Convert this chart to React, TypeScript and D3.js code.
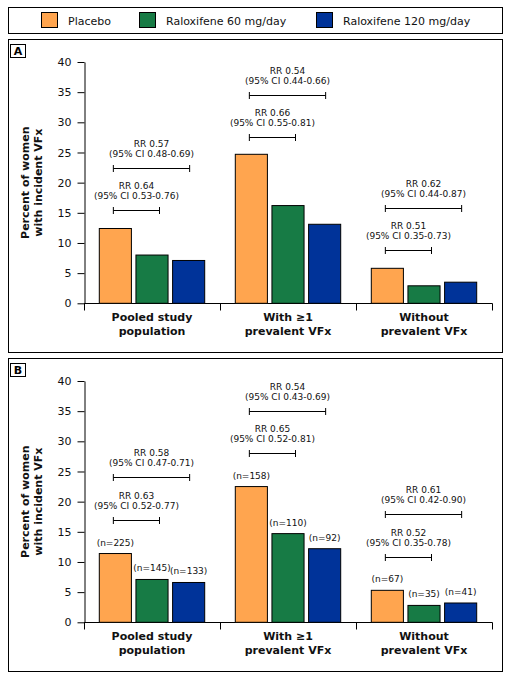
import { useRef, useEffect } from "react";
import * as d3 from "d3";

// Data
const categories = [
  ["Pooled study", "population"],
  ["With ≥1", "prevalent VFx"],
  ["Without", "prevalent VFx"],
];
const seriesNames = ["Placebo", "Raloxifene 60 mg/day", "Raloxifene 120 mg/day"];
const seriesColors = ["#FFA54F", "#177B45", "#003399"];
const yTicks = [0, 5, 10, 15, 20, 25, 30, 35, 40];

// Panel A
const aPlacebo = [12.4, 24.7, 5.8];
const aRal60 = [8.0, 16.2, 2.9];
const aRal120 = [7.1, 13.1, 3.5];
const aVs60Level = [15.5, 27.6, 8.8];
const aVs60RR = ["0.64", "0.66", "0.51"];
const aVs60CI = ["0.53-0.76", "0.55-0.81", "0.35-0.73"];
const aVs120Level = [22.4, 34.5, 15.75];
const aVs120RR = ["0.57", "0.54", "0.62"];
const aVs120CI = ["0.48-0.69", "0.44-0.66", "0.44-0.87"];

// Panel B
const bPlacebo = [11.4, 22.5, 5.3];
const bRal60 = [7.1, 14.7, 2.8];
const bRal120 = [6.6, 12.2, 3.2];
const bPlaceboN = [225, 158, 67];
const bRal60N = [145, 110, 35];
const bRal120N = [133, 92, 41];
const bVs60Level = [17.0, 28.1, 10.9];
const bVs60RR = ["0.63", "0.65", "0.52"];
const bVs60CI = ["0.52-0.77", "0.52-0.81", "0.35-0.78"];
const bVs120Level = [24.05, 35.0, 17.9];
const bVs120RR = ["0.58", "0.54", "0.61"];
const bVs120CI = ["0.47-0.71", "0.43-0.69", "0.42-0.90"];

const FONT = "Verdana, 'DejaVu Sans', sans-serif";

export default function App() {
  const svgRef = useRef<SVGSVGElement>(null);

  useEffect(() => {
    if (!svgRef.current) return;
    const svg = d3.select(svgRef.current);
    svg.selectAll("*").remove();
    svg.attr("font-family", FONT);

    // Legend
    svg.append("rect").attr("x", 8.5).attr("y", 7.5).attr("width", 494).attr("height", 26)
      .attr("fill", "#fff").attr("stroke", "#000").attr("stroke-width", 1);
    const legendX = [41, 139, 316];
    seriesNames.forEach((name, i) => {
      svg.append("rect").attr("x", legendX[i] + 0.5).attr("y", 12.5).attr("width", 16).attr("height", 15)
        .attr("fill", seriesColors[i]).attr("stroke", "#000");
      svg.append("text").attr("x", legendX[i] + 27).attr("y", 24.5)
        .attr("font-size", 11).attr("fill", "#111").text(name);
    });

    const panels = [
      {
        tag: "A", top: 39,
        values: [aPlacebo, aRal60, aRal120],
        counts: null as number[][] | null,
        brackets: [
          { target: 1, level: aVs60Level, rr: aVs60RR, ci: aVs60CI },
          { target: 2, level: aVs120Level, rr: aVs120RR, ci: aVs120CI },
        ],
      },
      {
        tag: "B", top: 358,
        values: [bPlacebo, bRal60, bRal120],
        counts: [bPlaceboN, bRal60N, bRal120N],
        brackets: [
          { target: 1, level: bVs60Level, rr: bVs60RR, ci: bVs60CI },
          { target: 2, level: bVs120Level, rr: bVs120RR, ci: bVs120CI },
        ],
      },
    ];

    const x0 = d3.scaleBand<number>().domain(d3.range(categories.length)).range([84, 492]);
    const x1 = d3.scaleBand<number>().domain(d3.range(seriesNames.length))
      .range([15.3, x0.bandwidth() - 15.3]).paddingInner(0.124);

    panels.forEach((p) => {
      const g = svg.append("g");
      g.append("rect").attr("x", 8.5).attr("y", p.top + 0.5).attr("width", 494).attr("height", 313)
        .attr("fill", "#fff").attr("stroke", "#000");
      // tag box
      g.append("rect").attr("x", 10.5).attr("y", p.top + 5.5).attr("width", 15).attr("height", 13)
        .attr("fill", "#fff").attr("stroke", "#000");
      g.append("text").attr("x", 18).attr("y", p.top + 16).attr("text-anchor", "middle")
        .attr("font-size", 11).attr("font-weight", "bold").text(p.tag);

      const y = d3.scaleLinear().domain([0, 40]).range([p.top + 264.3, p.top + 23]);

      // y axis
      const ax = g.append("g").attr("transform", "translate(84.5,0)")
        .call(d3.axisLeft(y).tickValues(yTicks).tickSize(7).tickSizeOuter(0).tickPadding(6));
      ax.selectAll("text").attr("font-size", 11).attr("font-family", FONT).attr("fill", "#111");
      ax.selectAll("line,path").attr("stroke", "#000");

      // y title
      const cy = (y(0) + y(40)) / 2;
      [["Percent of women", 29], ["with incident VFx", 41.5]].forEach(([t, bx]) => {
        g.append("text").attr("transform", `translate(${bx},${cy}) rotate(-90)`)
          .attr("text-anchor", "middle").attr("font-size", 11).attr("font-weight", "bold")
          .attr("fill", "#111").text(t as string);
      });

      // x axis baseline and separators
      const base = Math.round(y(0)) + 0.5;
      g.append("line").attr("x1", 84).attr("x2", 492.5).attr("y1", base).attr("y2", base).attr("stroke", "#000");
      const bounds = categories.map((_, i) => x0(i)!).concat([x0(categories.length - 1)! + x0.bandwidth()]);
      bounds.forEach((bx) => {
        g.append("line").attr("x1", Math.round(bx) + 0.5).attr("x2", Math.round(bx) + 0.5)
          .attr("y1", base).attr("y2", base + 7).attr("stroke", "#000");
      });

      categories.forEach((lines, ci) => {
        const cx = x0(ci)! + x0.bandwidth() / 2;
        lines.forEach((ln, li) => {
          g.append("text").attr("x", cx).attr("y", y(0) + 18 + li * 14).attr("text-anchor", "middle")
            .attr("font-size", 11).attr("font-weight", "bold").attr("fill", "#111").text(ln);
        });

        // bars
        p.values.forEach((vals, si) => {
          const bx = x0(ci)! + x1(si)!;
          g.append("rect").attr("x", bx).attr("y", y(vals[ci])).attr("width", x1.bandwidth())
            .attr("height", y(0) - y(vals[ci])).attr("fill", seriesColors[si])
            .attr("stroke", "#000").attr("stroke-width", 1);
          if (p.counts) {
            g.append("text").attr("x", bx + x1.bandwidth() / 2).attr("y", y(vals[ci]) - 8)
              .attr("text-anchor", "middle").attr("font-size", 9).attr("fill", "#111")
              .text(`(n=${p.counts[si][ci]})`);
          }
        });

        // RR brackets
        p.brackets.forEach((b) => {
          const xs = x0(ci)! + x1(0)! + x1.bandwidth() / 2 - 2;
          const xe = x0(ci)! + x1(b.target)! + x1.bandwidth() / 2 + (b.target === 1 ? 7.5 : 1);
          const by = Math.round(y(b.level[ci])) + 0.5;
          g.append("line").attr("x1", xs).attr("x2", xe).attr("y1", by).attr("y2", by).attr("stroke", "#000");
          [xs, xe].forEach((ex) => {
            g.append("line").attr("x1", ex).attr("x2", ex).attr("y1", by - 3.5).attr("y2", by + 3.5)
              .attr("stroke", "#000");
          });
          const mx = (xs + xe) / 2;
          g.append("text").attr("x", mx).attr("y", by - 21.5).attr("text-anchor", "middle")
            .attr("font-size", 9).attr("fill", "#111").text(`RR ${b.rr[ci]}`);
          g.append("text").attr("x", mx).attr("y", by - 11.2).attr("text-anchor", "middle")
            .attr("font-size", 9).attr("fill", "#111").text(`(95% CI ${b.ci[ci]})`);
        });
      });
    });
  }, []);

  return (
    <svg ref={svgRef} width={518} height={680}
      style={{ position: "absolute", left: 0, top: 0, display: "block", background: "#fff" }} />
  );
}
